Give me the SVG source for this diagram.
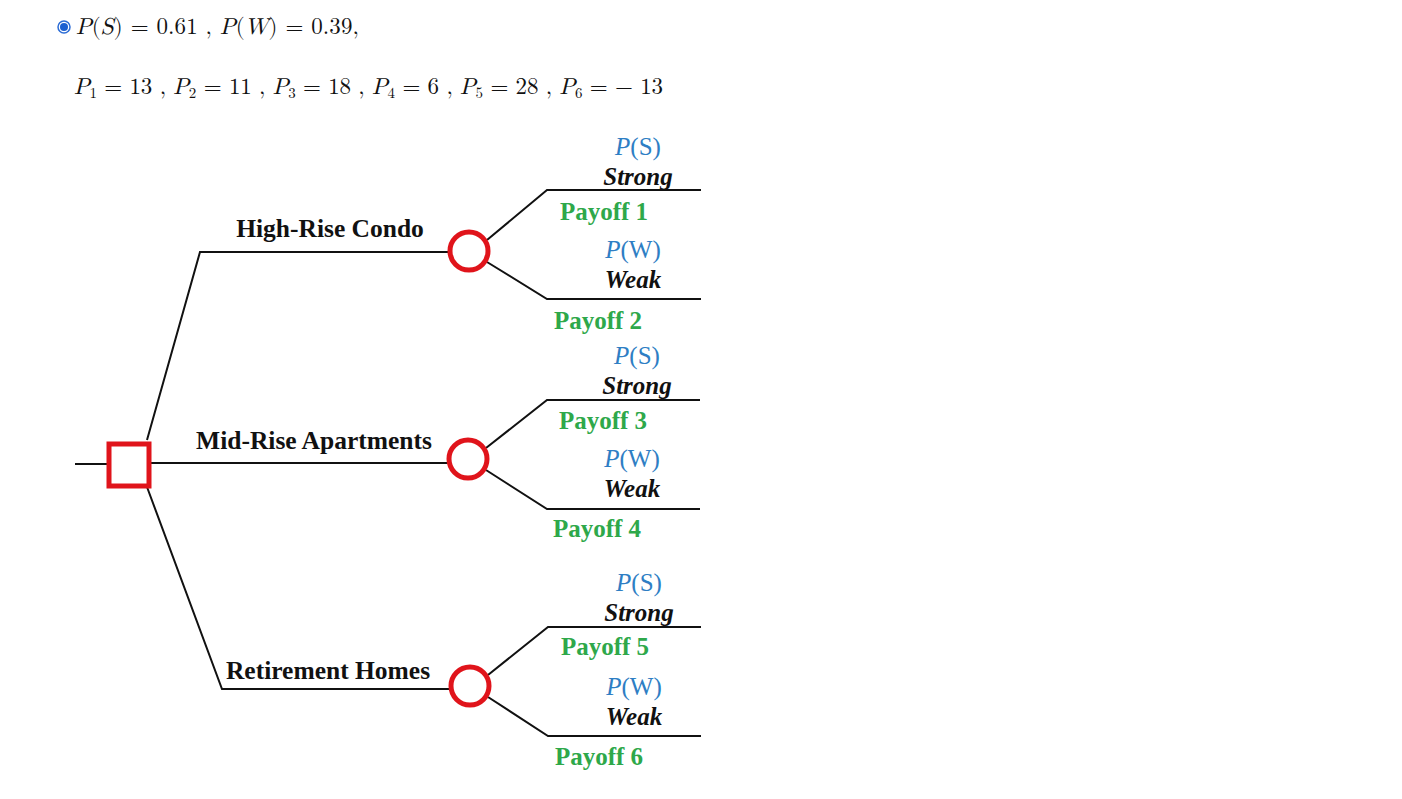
<svg xmlns="http://www.w3.org/2000/svg" width="1402" height="799" viewBox="0 0 1402 799">
<style>
.m{font-family:"Latin Modern Math","DejaVu Serif","Liberation Serif",serif;font-size:23px;fill:#111}
.i{font-style:italic}
.ln{stroke:#111;stroke-width:2;fill:none}
.nd{stroke:#e0141b;stroke-width:5;fill:#fff}
.lb{font-family:"Liberation Serif",serif;font-weight:bold;font-size:25.5px;fill:#111;text-anchor:middle}
.pb{font-family:"Liberation Serif",serif;font-size:25px;fill:#2e7ec4;text-anchor:middle}
.sw{font-family:"Liberation Serif",serif;font-weight:bold;font-style:italic;font-size:25px;fill:#111;text-anchor:middle}
.pf{font-family:"Liberation Serif",serif;font-weight:bold;font-size:25px;fill:#2ea84a;text-anchor:middle}
</style>
<rect width="1402" height="799" fill="#fff"/>
<circle cx="64" cy="27" r="6" fill="#fff" stroke="#2b6cd6" stroke-width="1.5"/>
<circle cx="64" cy="27" r="4" fill="#1b5fd0"/>
<text class="m" x="76" y="34" textLength="283"><tspan class="i">P</tspan>(<tspan class="i">S</tspan>) = 0.61 , <tspan class="i">P</tspan>(<tspan class="i">W</tspan>) = 0.39,</text>
<text class="m" x="74" y="94" textLength="589"><tspan class="i">P</tspan><tspan font-size="15" dy="4">1</tspan><tspan dy="-4"> = 13 , </tspan><tspan class="i">P</tspan><tspan font-size="15" dy="4">2</tspan><tspan dy="-4"> = 11 , </tspan><tspan class="i">P</tspan><tspan font-size="15" dy="4">3</tspan><tspan dy="-4"> = 18 , </tspan><tspan class="i">P</tspan><tspan font-size="15" dy="4">4</tspan><tspan dy="-4"> = 6 , </tspan><tspan class="i">P</tspan><tspan font-size="15" dy="4">5</tspan><tspan dy="-4"> = 28 , </tspan><tspan class="i">P</tspan><tspan font-size="15" dy="4">6</tspan><tspan dy="-4"> =  − 13</tspan></text>
<g id="connectors">
<path class="ln" d="M75 464H108M150 463H450M147 440L200 252H450M147 487L222 689H452"/>
<path class="ln" d="M487 240L547 190H701M487 262L547 299H701"/>
<path class="ln" d="M486 448L547 400H700M486 470L547 509H700"/>
<path class="ln" d="M488 675L548 627H701M488 697L548 736H701"/>
</g>
<g id="decision"><rect class="nd" x="109" y="444" width="40" height="42"/></g>
<g id="chance1"><circle class="nd" cx="469" cy="251" r="19"/></g>
<g id="chance2"><circle class="nd" cx="468" cy="459" r="19"/></g>
<g id="chance3"><circle class="nd" cx="470" cy="686" r="19"/></g>
<g id="labels">
<text class="lb" x="330" y="237">High-Rise Condo</text>
<text class="lb" x="314" y="449">Mid-Rise Apartments</text>
<text class="lb" x="328" y="679">Retirement Homes</text>
</g>
<g id="out1">
<text class="pb" x="638" y="155"><tspan font-style="italic">P</tspan>(S)</text>
<text class="sw" x="638" y="185">Strong</text>
<text class="pf" x="604" y="220">Payoff 1</text>
<text class="pb" x="633" y="258"><tspan font-style="italic">P</tspan>(W)</text>
<text class="sw" x="633" y="288">Weak</text>
<text class="pf" x="598" y="329">Payoff 2</text>
</g>
<g id="out2">
<text class="pb" x="637" y="364"><tspan font-style="italic">P</tspan>(S)</text>
<text class="sw" x="637" y="394">Strong</text>
<text class="pf" x="603" y="429">Payoff 3</text>
<text class="pb" x="632" y="467"><tspan font-style="italic">P</tspan>(W)</text>
<text class="sw" x="632" y="497">Weak</text>
<text class="pf" x="597" y="537">Payoff 4</text>
</g>
<g id="out3">
<text class="pb" x="639" y="591"><tspan font-style="italic">P</tspan>(S)</text>
<text class="sw" x="639" y="621">Strong</text>
<text class="pf" x="605" y="655">Payoff 5</text>
<text class="pb" x="634" y="695"><tspan font-style="italic">P</tspan>(W)</text>
<text class="sw" x="634" y="725">Weak</text>
<text class="pf" x="599" y="765">Payoff 6</text>
</g>
</svg>
